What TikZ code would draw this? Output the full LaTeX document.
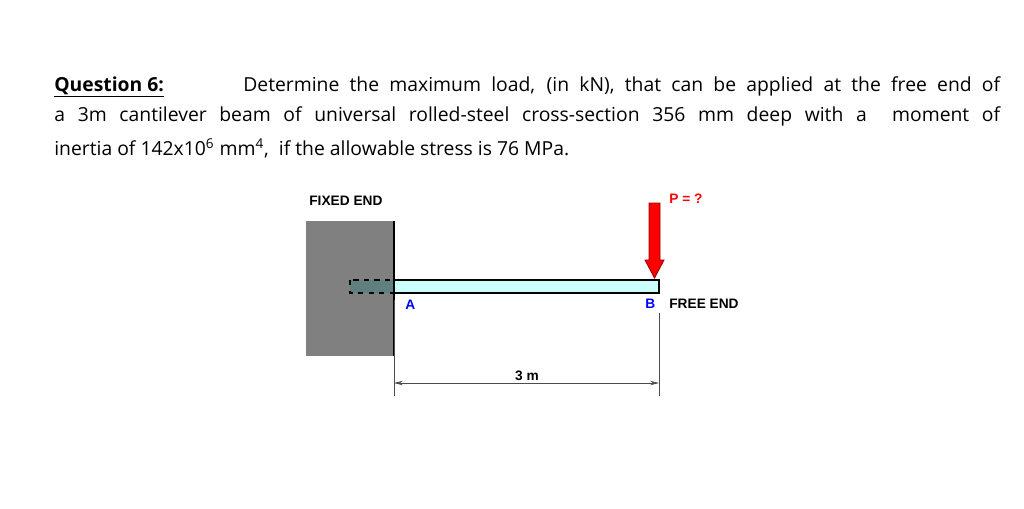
\documentclass[tikz,border=0pt]{standalone}
\usepackage{fontspec}
\setmainfont{Open Sans}
\newfontfamily\arialf{Liberation Sans}
\usetikzlibrary{arrows.meta}
\definecolor{embed}{RGB}{96,128,128}
\definecolor{beamc}{RGB}{204,255,255}
\begin{document}
\begin{tikzpicture}[x=0.02cm,y=-0.02cm,
  lbl/.style={font=\arialf\bfseries\fontsize{7.8}{9}\selectfont,inner sep=0},
  txt/.style={font=\fontsize{11}{13}\selectfont,inner sep=0,anchor=base west},
  dimline/.style={line width=0.4pt,black!70}]
\useasboundingbox (0,0) rectangle (1024,508);
% text
\node[txt] (q) at (54,91) {\underline{\textbf{Question 6:}}};
\node[txt] (l1) at (243,91) {\makebox[15.14cm][s]{Determine the maximum load, (in kN), that can be applied at the free end of}};
\node[txt] (l2) at (54,121) {\makebox[18.92cm][s]{a 3m cantilever beam of universal rolled-steel cross-section 356 mm deep with a \ moment of}};
\node[txt] (l3) at (54,155) {inertia of 142x10\textsuperscript{6} mm\textsuperscript{4}, \ if the allowable stress is 76 MPa.};
% wall
\fill[black!50] (306,221) rectangle (394,356);
\draw[line width=1.6pt] (394,221) -- (394,356);
% embedded part
\draw[dashed,line width=0.8pt,fill=embed] (350,280) rectangle (394,293);
% beam
\draw[line width=1.4pt,fill=beamc] (394,280) rectangle (659,293);
% load arrow
\draw[fill=red,draw=red!60!black,line width=0.5pt]
  (649,203) -- (660,203) -- (660,260) -- (664,260) -- (654.5,278) -- (645,260) -- (649,260) -- cycle;
\node[lbl,red,anchor=west] (p) at (669,199) {P = ?};
\node[lbl,anchor=west] (fe) at (309,201) {FIXED END};
\node[lbl,blue,anchor=west] (a) at (405,305) {A};
\node[lbl,blue,anchor=west] (b) at (645,304) {B};
\node[lbl,anchor=west] (free) at (669,304) {FREE END};
% dimension
\coordinate (d1a) at (394,300); \coordinate (d1b) at (394,396);
\coordinate (d2a) at (659,313); \coordinate (d2b) at (659,396);
\draw[dimline] (d1a) -- (d1b);
\draw[dimline] (d2a) -- (d2b);
\coordinate (e1) at (394,383); \coordinate (e2) at (659,383);
\draw[dimline,{Stealth[length=5pt,width=2.5pt]}-{Stealth[length=5pt,width=2.5pt]}] (e1) -- (e2);
\node[lbl] (dim) at (527,376) {3 m};
\end{tikzpicture}
\end{document}
